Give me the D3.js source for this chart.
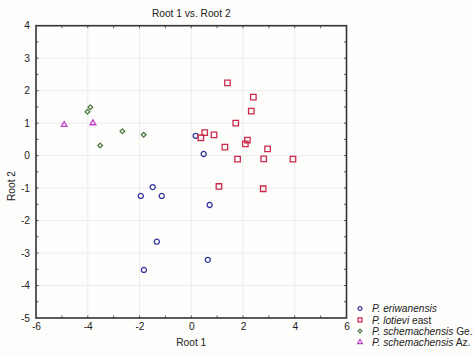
<!DOCTYPE html>
<html><head><meta charset="utf-8">
<script src="https://cdn.jsdelivr.net/npm/d3@7"></script>
<style>body{margin:0;background:#fdfdfb;}svg{display:block;font-family:"Liberation Sans",Arial,sans-serif;}</style>
</head><body>
<svg id="c" width="474" height="355"></svg>
<script>
const seriesNames = ["P. eriwanensis","P. lotievi east","P. schemachensis Ge.","P. schemachensis Az."];
const eriwX = [0.17,0.48,-1.49,-1.95,-1.14,0.71,-1.33,-1.83,0.64];
const eriwY = [0.61,0.05,-0.97,-1.24,-1.24,-1.52,-2.65,-3.52,-3.21];
const lotX = [1.40,2.40,2.32,1.72,0.52,0.37,0.88,1.30,2.17,2.09,2.95,1.79,2.80,3.93,1.07,2.78];
const lotY = [2.24,1.80,1.37,1.00,0.71,0.55,0.64,0.26,0.48,0.36,0.21,-0.11,-0.10,-0.11,-0.95,-1.02];
const geX = [-4.01,-3.90,-3.52,-2.66,-1.84];
const geY = [1.35,1.49,0.31,0.75,0.64];
const azX = [-4.91,-3.80];
const azY = [0.95,1.00];
const xTicks = [-6,-4,-2,0,2,4,6];
const yTicks = [4,3,2,1,0,-1,-2,-3,-4,-5];

const svg = d3.select("#c");
const L=36,R=346.5,T=25.7,B=318;
const x = d3.scaleLinear().domain([-6,6]).range([L,R]);
const y = d3.scaleLinear().domain([-5,4]).range([B,T]);
const FS = 10.2;

// grid
svg.append("g").selectAll("line").data(xTicks.slice(1,-1)).join("line")
  .attr("x1",d=>x(d)).attr("x2",d=>x(d)).attr("y1",T).attr("y2",B)
  .attr("stroke","#ececec").attr("stroke-width",1);
svg.append("g").selectAll("line").data(yTicks.slice(1,-1)).join("line")
  .attr("y1",d=>y(d)).attr("y2",d=>y(d)).attr("x1",L).attr("x2",R)
  .attr("stroke","#ececec").attr("stroke-width",1);

// axes
const fmt = d=>String(d);
const xa = svg.append("g").attr("transform",`translate(0,${B})`)
  .call(d3.axisBottom(x).tickValues(xTicks).tickFormat(fmt).tickSize(0).tickPadding(5));
xa.select(".domain").remove();
xa.selectAll("text").attr("font-size",FS).attr("fill","#222").attr("font-family","Liberation Sans, Arial, sans-serif");
const ya = svg.append("g").attr("transform",`translate(${L},0)`)
  .call(d3.axisLeft(y).tickValues(yTicks).tickFormat(fmt).tickSize(0).tickPadding(6));
ya.select(".domain").remove();
ya.selectAll("text").attr("font-size",FS).attr("fill","#222").attr("font-family","Liberation Sans, Arial, sans-serif");

// minor inward ticks
const xm = d3.range(-5,6,1);
svg.append("g").selectAll("line").data(xm).join("line")
  .attr("x1",d=>x(d)).attr("x2",d=>x(d)).attr("y1",B).attr("y2",B-2.5).attr("stroke","#555");
svg.append("g").selectAll("line").data(xm).join("line")
  .attr("x1",d=>x(d)).attr("x2",d=>x(d)).attr("y1",T).attr("y2",T+2.5).attr("stroke","#555");
const ym = d3.range(-4.5,4,0.5);
svg.append("g").selectAll("line").data(ym).join("line")
  .attr("y1",d=>y(d)).attr("y2",d=>y(d)).attr("x1",L).attr("x2",L+2.5).attr("stroke","#555");
svg.append("g").selectAll("line").data(ym).join("line")
  .attr("y1",d=>y(d)).attr("y2",d=>y(d)).attr("x1",R).attr("x2",R-2.5).attr("stroke","#555");

// frame
svg.append("rect").attr("x",L).attr("y",T).attr("width",R-L).attr("height",B-T)
  .attr("fill","none").attr("stroke","#333").attr("stroke-width",1.6);

// title & labels
svg.append("text").attr("x",(L+R)/2).attr("y",17).attr("text-anchor","middle")
  .attr("font-size",FS).attr("fill","#222").text("Root 1 vs. Root 2");
svg.append("text").attr("x",(L+R)/2).attr("y",346).attr("text-anchor","middle")
  .attr("font-size",FS).attr("fill","#222").text("Root 1");
svg.append("text").attr("transform","translate(15,186) rotate(-90)").attr("text-anchor","middle")
  .attr("font-size",FS).attr("fill","#222").text("Root 2");

const cols = ["#32329a","#cc2a4a","#4f7a3f","#c040c8"];
const sym = [d3.symbolCircle,d3.symbolSquare,d3.symbolSquare,d3.symbolTriangle];
const rot = [0,0,45,0];
const sizes = [20,30,11,14];
const series = [[eriwX,eriwY],[lotX,lotY],[geX,geY],[azX,azY]];
series.forEach((s,i)=>{
  const pts = s[0].map((v,j)=>[v,s[1][j]]);
  svg.append("g").selectAll("path").data(pts).join("path")
    .attr("d",d3.symbol().type(sym[i]).size(sizes[i]))
    .attr("transform",d=>`translate(${x(d[0])},${y(d[1])}) rotate(${rot[i]})`)
    .attr("fill","none").attr("stroke",cols[i]).attr("stroke-width",1.3);
});

// legend
const lg = svg.append("g");
const rows = [308.5,319.8,331,342.3];
const lsizes=[12,16,7,10];
const italicParts=[["P. eriwanensis",""],["P. lotievi"," east"],["P. schemachensis"," Ge."],["P. schemachensis"," Az."]];
seriesNames.forEach((n,i)=>{
  lg.append("path").attr("d",d3.symbol().type(sym[i]).size(lsizes[i]))
    .attr("transform",`translate(360,${rows[i]}) rotate(${rot[i]})`)
    .attr("fill","none").attr("stroke",cols[i]).attr("stroke-width",1.2);
  const t = lg.append("text").attr("x",372).attr("y",rows[i]+3.8).attr("font-size",10.2)
    .attr("fill","#222");
  t.append("tspan").attr("font-style","italic").text(italicParts[i][0]);
  t.append("tspan").text(italicParts[i][1]);
});
</script>
</body></html>
